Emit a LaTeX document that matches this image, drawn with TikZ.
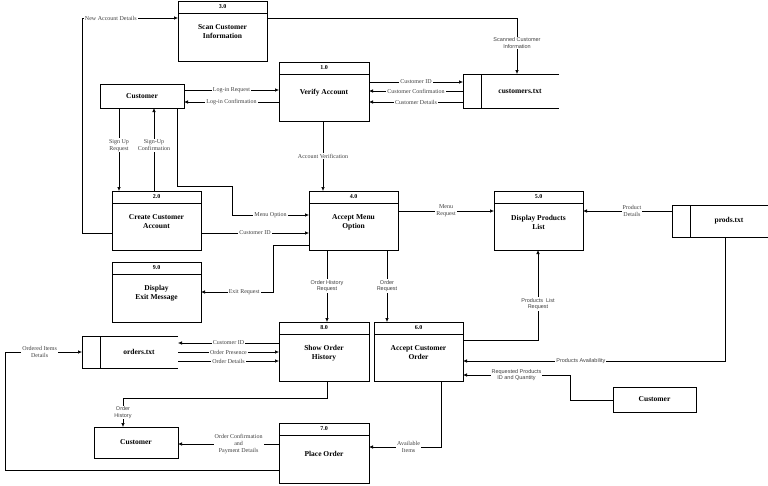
\documentclass[tikz,border=0pt]{standalone}
\usepackage{fontspec}
\setmainfont{Liberation Serif}
\newfontfamily\lsans{Liberation Sans}
\usetikzlibrary{arrows.meta}
\begin{document}
\begin{tikzpicture}[x=1pt,y=-1pt,
  box/.style={draw,line width=0.8pt,anchor=north west,inner sep=0pt},
  ttl/.style={font=\fontsize{7.5}{9}\selectfont\bfseries,align=center},
  num/.style={font=\fontsize{6}{7}\selectfont\bfseries},
  lab/.style={fill=white,inner sep=1pt,font=\fontsize{6}{7}\selectfont,align=center,text=black!75},
  slab/.style={lab,font=\lsans\fontsize{5.5}{6.5}\selectfont},
  flow/.style={draw,line width=0.6pt,-{Latex[length=4pt,width=3.5pt]}},
  line/.style={draw,line width=0.6pt}]
\useasboundingbox (0,0) rectangle (768,485);
\newcommand{\proc}[7]{%
  \node[box,minimum width=#4pt,minimum height=#5pt] (#1) at (#2,#3) {};
  \draw[line width=0.8pt] (#2,#3+12) -- (#2+#4,#3+12);
  \node[num] (#1n) at (#2+#4/2,#3+6) {#6};
  \node[ttl] (#1t) at (#2+#4/2,#3+31) {#7};}
\newcommand{\store}[6]{%
  \draw[line width=0.8pt] (#5,#3) -- (#2,#3) -- (#2,#4) -- (#5,#4);
  \draw[line width=0.8pt] (#2+18,#3) -- (#2+18,#4);
  \node[ttl] (#1) at ({#2/2+#5/2+9},{#3/2+#4/2}) {#6};}
\proc{p3}{178}{1}{89}{60}{3.0}{Scan Customer\\Information}
\proc{p1}{279}{62}{90}{59}{1.0}{Verify Account}
\proc{p2}{112}{191}{89}{59}{2.0}{Create Customer\\Account}
\proc{p4}{309}{191}{89}{59}{4.0}{Accept Menu\\Option}
\proc{p5}{494}{191}{89}{59}{5.0}{Display Products\\List}
\proc{p9}{112}{262}{89}{60}{9.0}{Display\\Exit Message}
\proc{p8}{279}{322}{90}{59}{8.0}{Show Order\\History}
\proc{p6}{374}{322}{89}{59}{6.0}{Accept Customer\\Order}
\proc{p7}{279}{423}{90}{60}{7.0}{Place Order}
\node[box,minimum width=84pt,minimum height=24pt] (c1) at (100,84) {};
\node[ttl] at (142,96) {Customer};
\node[box,minimum width=84pt,minimum height=31pt] (c2) at (94,427) {};
\node[ttl] at (136,442) {Customer};
\node[box,minimum width=83pt,minimum height=25pt] (c3) at (613,387) {};
\node[ttl] at (654.5,399.5) {Customer};
\store{sc}{463}{74}{108}{559}{customers.txt}
\store{sp}{672}{205}{237}{768}{prods.txt}
\store{so}{82}{336}{368}{178}{orders.txt}
% flows
\draw[flow] (p2.west |- 0,233) -- (82,233) -- (82,18) -- node[lab,pos=0.3]{New Account Details} (178,18);
\draw[flow] (267,18) -- (517,18) -- node[slab,pos=0.45]{Scanned Customer\\Information} (517,74);
\draw[flow] (184,90) -- node[lab]{Log-in Request} (279,90);
\draw[flow] (279,102) -- node[lab]{Log-in Confirmation} (184,102);
\draw[flow] (369,82) -- node[lab]{Customer ID} (463,82);
\draw[flow] (463,91) -- node[lab]{Customer Confirmation} (369,91);
\draw[flow] (463,102) -- node[lab]{Customer Details} (369,102);
\draw[flow] (323,121) -- node[lab,pos=0.5]{Account Verification} (323,191);
\draw[flow] (119,108) -- node[lab,pos=0.45]{Sign Up\\Request} (119,191);
\draw[flow] (154,191) -- node[lab,pos=0.55]{Sign-Up\\Confirmation} (154,108);
\draw[flow] (177,108) -- (177,186) -- (232,186) -- (232,215) -- node[lab]{Menu Option} (309,215);
\draw[flow] (201,233) -- node[lab]{Customer ID} (309,233);
\draw[flow] (398,211) -- node[lab]{Menu\\Request} (494,211);
\draw[flow] (672,211) -- node[lab,pos=0.45]{Product\\Details} (583,211);
\draw[flow] (309,245) -- (273,245) -- (273,292) -- node[lab,pos=0.4]{Exit Request} (201,292);
\draw[flow] (327,250) -- node[slab]{Order History\\Request} (327,322);
\draw[flow] (387,250) -- node[slab]{Order\\Request} (387,322);
\draw[flow] (463,340) -- (538,340) -- node[slab,pos=0.4]{Products\ \ List\\Request} (538,250);
\draw[flow] (725,237) -- (725,361) -- node[slab,pos=0.55]{Products Availability} (463,361);
\draw[flow] (613,400) -- (570,400) -- (570,375) -- node[slab,pos=0.5]{Requested Products\\ID and Quantity} (463,375);
\draw[flow] (279,343) -- node[lab]{Customer ID} (178,343);
\draw[flow] (178,352) -- node[lab]{Order Presence} (279,352);
\draw[flow] (178,361) -- node[lab]{Order Details} (279,361);
\draw[flow] (327,381) -- (327,398) -- (123,398) -- node[slab,pos=0.5]{Order\\History} (123,427);
\draw[flow] (279,444) -- node[lab,pos=0.4]{Order Confirmation\\and\\Payment Details} (178,444);
\draw[flow] (441,381) -- (441,447) -- node[lab,pos=0.45]{Available\\Items} (369,447);
\draw[flow] (279,470) -- (5,470) -- (5,352) -- node[lab,pos=0.45]{Ordered Items\\Details} (82,352);
\end{tikzpicture}
\end{document}
